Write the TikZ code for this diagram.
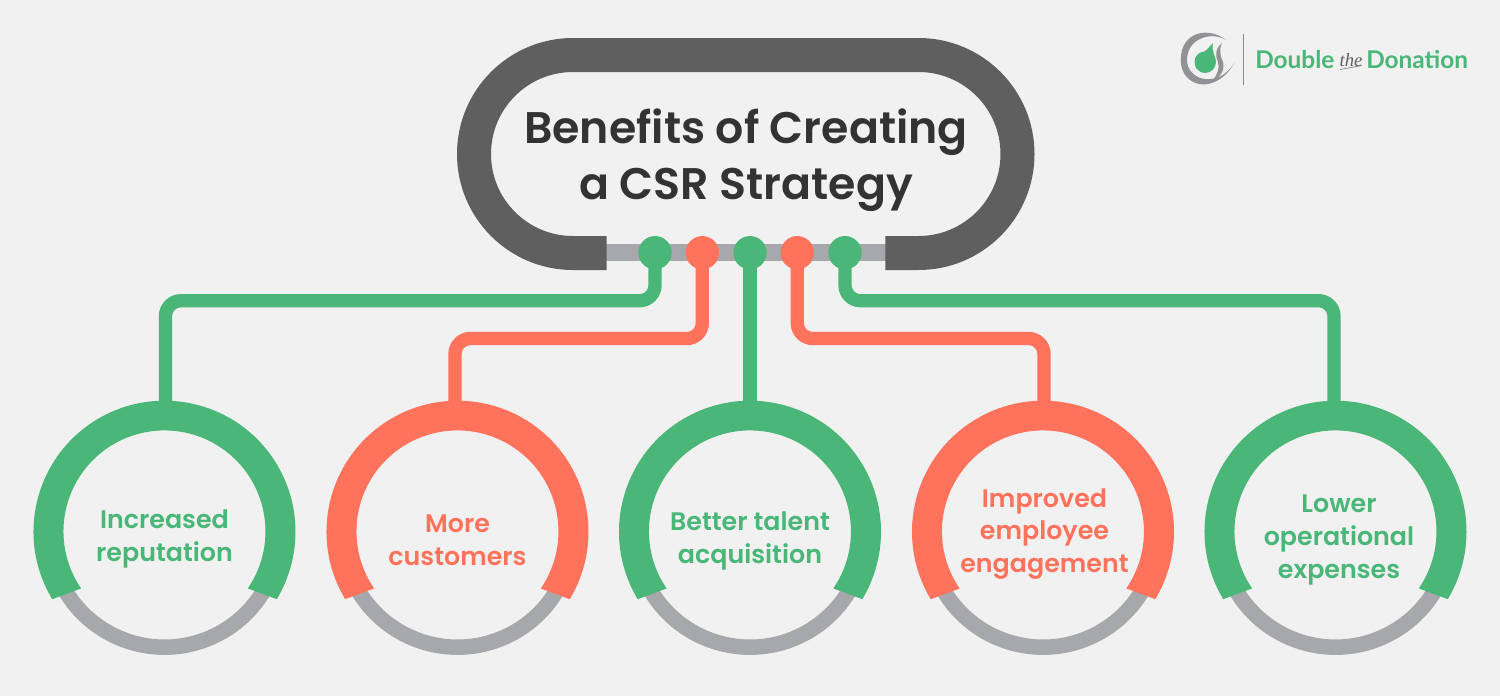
\documentclass[tikz,border=0pt]{standalone}
\usepackage{fontspec}
\newfontfamily\ralefont[UprightFont=*-SemiBold]{Poppins}
\newfontfamily\logofont{Lato}
\newfontfamily\thefont{Liberation Serif}
\definecolor{bgc}{HTML}{F1F1F1}
\definecolor{grn}{HTML}{4AB678}
\definecolor{org}{HTML}{FF735C}
\definecolor{gry}{HTML}{A7A8AC}
\definecolor{drk}{HTML}{5F5F5F}
\definecolor{ttl}{HTML}{333333}
\newcommand{\ringdraw}[3]{%
  \draw[gry,line width=11.6pt] (#1,#2)++(150:115.5) arc[start angle=150,end angle=30,radius=115.5];
  \fill[#3] (#1,#2)++(149:131) arc[start angle=149,end angle=391,radius=131]
    -- ++(-29,-10.7) arc[start angle=394.4,end angle=145.6,radius=101] -- cycle;
}
\tikzset{
  x=0.75pt,y=-0.75pt,
  hub/.style={circle,inner sep=0pt,minimum size=25pt,fill=#1},
  ringnode/.style={circle,inner sep=0pt,minimum size=196.5pt},
  wire/.style={line width=10pt,rounded corners=11.6pt,draw=#1},
  label/.style={font=\ralefont\fontsize{19pt}{24.6pt}\selectfont,align=center,text=#1,inner sep=0pt},
  titletext/.style={font=\ralefont\fontsize{33.2pt}{42pt}\selectfont,align=center,text=ttl,inner sep=0pt},
  logotext/.style={font=\logofont\bfseries\fontsize{18.3pt}{20pt}\selectfont,text=grn,inner sep=0pt,anchor=base west},
}
\begin{document}
\begin{tikzpicture}
\useasboundingbox[fill=bgc] (0,0) rectangle (1500,696);
% hub track
\draw[gry,line width=12.7pt] (606,252.7) -- (886,252.7);
\draw[drk,line width=25.5pt] (606.7,253) -- (573,253) arc[start angle=90,end angle=270,radius=99]
  -- (918.5,55) arc[start angle=270,end angle=450,radius=99] -- (885.3,253);
\node[titletext] (title) at (746,160) {Benefits of Creating\\a CSR Strategy};
% rings
\ringdraw{164.5}{531.7}{grn}
\ringdraw{457.5}{531.7}{org}
\ringdraw{750}{531.7}{grn}
\ringdraw{1043}{531.7}{org}
\ringdraw{1335.5}{531.7}{grn}
\node[ringnode] (c1) at (164.5,531.7) {};
\node[ringnode] (c2) at (457.5,531.7) {};
\node[ringnode] (c3) at (750,531.7) {};
\node[ringnode] (c4) at (1043,531.7) {};
\node[ringnode] (c5) at (1335.5,531.7) {};
% hubs
\node[hub=grn] (h1) at (655,252.7) {};
\node[hub=org] (h2) at (702.3,252.7) {};
\node[hub=grn] (h3) at (750,252.7) {};
\node[hub=org] (h4) at (797.3,252.7) {};
\node[hub=grn] (h5) at (845,252.7) {};
% connectors
\coordinate (b1) at (165.5,405);
\coordinate (b2) at (455,405);
\coordinate (b3) at (750,405);
\coordinate (b4) at (1044,405);
\coordinate (b5) at (1334,405);
\draw[wire=grn] (h1.center) -- (655,300.7) -- (165.5,300.7) -- (b1);
\draw[wire=org] (h2.center) -- (702.3,338.5) -- (455,338.5) -- (b2);
\draw[wire=grn] (h3.center) -- (b3);
\draw[wire=org] (h4.center) -- (797.3,338.5) -- (1044,338.5) -- (b4);
\draw[wire=grn] (h5.center) -- (845,300.7) -- (1334,300.7) -- (b5);
% labels
\node[label=grn] (t1) at (164.5,539) {Increased\\reputation};
\node[label=org] (t2) at (457.5,540) {More\\customers};
\node[label=grn] (t3) at (750,541) {Better talent\\acquisition};
\node[label=org] (t4) at (1044.5,534) {Improved\\employee\\engagement};
\node[label=grn] (t5) at (1339,540) {Lower\\operational\\expenses};
% logo
\fill[gry!70!drk] (1226,40) .. controls (1210,27) and (1181,30) .. (1180.7,60)
  .. controls (1181,88) and (1216,96) .. (1235,62)
  .. controls (1218,90) and (1187,80) .. (1187,60)
  .. controls (1187,38) and (1212,31) .. (1226,40) -- cycle;
\fill[grn] (1213,43) .. controls (1209,47) and (1207,50) .. (1204,51.5)
  .. controls (1198,52) and (1194.5,57) .. (1194.5,62)
  .. controls (1194.5,69) and (1200,73) .. (1205,73)
  .. controls (1211,73) and (1216,68) .. (1216,62)
  .. controls (1216,56) and (1211,52) .. (1213,43) -- cycle;
\fill[gry!70!drk] (1222,43) .. controls (1215,49) and (1215,56) .. (1218,62)
  .. controls (1220,68) and (1217,76) .. (1212,81)
  .. controls (1221,77) and (1225,70) .. (1223,62)
  .. controls (1220,55) and (1219,50) .. (1222,43) -- cycle;
\draw[drk!70!bgc,line width=0.9pt] (1243.5,34) -- (1243.5,85);
\node[logotext] (lg1) at (1255,68) {Double};
\node[font=\thefont\itshape\fontsize{14pt}{14pt}\selectfont,text=drk,inner sep=0pt,anchor=base] (lg2) at (1351,66) {the};
\draw[drk!80!bgc,line width=0.5pt] (1340,69.5) -- (1362,65.5);
\node[logotext] (lg3) at (1366,68) {Donation};
\end{tikzpicture}
\end{document}
